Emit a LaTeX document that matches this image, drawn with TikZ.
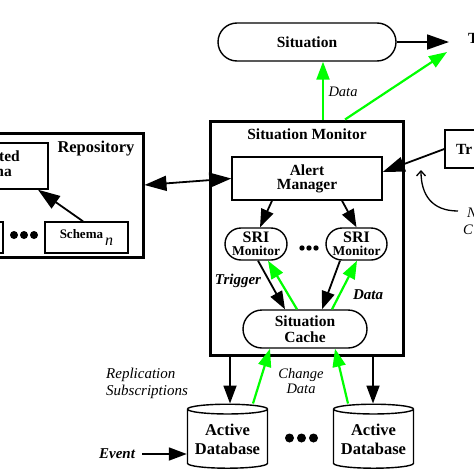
\documentclass[tikz,border=0pt]{standalone}
\usepackage{fontspec}
\setmainfont{Liberation Serif}
\usepackage{tikz}
\usetikzlibrary{shapes,arrows.meta,positioning}
\tikzset{
  every node/.style={
    font=\fontsize{15.5}{14}\selectfont\bfseries,
    align=center,
    inner sep=0pt
  },
  block/.style n args={2}{
    shape=rectangle,
    draw=black,
    line width=1.4pt,
    minimum width=#1,
    minimum height=#2
  },
  panel/.style n args={2}{
    block={#1}{#2},
    line width=3pt
  },
  pill/.style n args={3}{
    block={#1}{#2},
    rounded corners=#3
  },
  database/.style={
    shape=cylinder,
    shape border rotate=90,
    aspect=0.15,
    draw=black,
    line width=1.4pt,
    minimum width=80pt,
    minimum height=64pt,
    font=\fontsize{16.5}{19}\selectfont\bfseries
  },
  call/.style={
    -{Triangle[length=18pt,width=13pt]},
    line width=1.8pt
  },
  bigcall/.style={
    -{Triangle[length=22pt,width=15pt]},
    line width=1.8pt
  },
  twoway/.style={
    {Triangle[length=22pt,width=15pt]}-{Triangle[length=22pt,width=15pt]},
    line width=1.8pt
  },
  feed/.style={
    call,
    draw=green,
    line width=2.2pt
  },
  note/.style={
    -{Straight Barb[length=5pt,width=9pt]},
    line width=1.3pt
  },
  tag/.style={
    font=\fontsize{14.5}{15}\selectfont\itshape
  },
  boldtag/.style={
    font=\fontsize{15}{16}\selectfont\bfseries\itshape
  }
}

\begin{document}
\begin{tikzpicture}[x=1pt,y=-1pt]
    \useasboundingbox (0,0) rectangle (474,474);
    \clip (0,0) rectangle (474,474);
    \node [pill={178pt}{38pt}{19pt}] (situation) at (307,42) {Situation};
    \node [anchor=west] (toptext) at (468,38) {T};
    \node [panel={193pt}{234pt}] (monitor) at (306.5,238) {};
    \node (monitortitle) at (307,134) {Situation Monitor};
    \node [block={150pt}{43pt}] (alert) at (307,178.5) {Alert\\Manager};
    \node [pill={62pt}{32pt}{16pt}, font=\fontsize{13.5}{13}\selectfont\bfseries] (sri1) at (256,244)
      {{\fontsize{16}{13}\selectfont SRI}\\Monitor};
    \node [pill={61pt}{32pt}{16pt}, font=\fontsize{13.5}{13}\selectfont\bfseries] (sri2) at (356.5,244)
      {{\fontsize{16}{13}\selectfont SRI}\\Monitor};
    \node [pill={124pt}{38pt}{19pt}, font=\fontsize{15.5}{16}\selectfont\bfseries] (cache) at (305,329)
      {Situation\\Cache};
    \node [database] (db1) at (227.5,439) {Active\\Database};
    \node [database] (db2) at (373.5,439) {Active\\Database};
    \node [panel={200pt}{124pt}] (repo) at (43,195) {};
    \node [font=\fontsize{16.5}{16}\selectfont\bfseries] (repotitle) at (96,149) {Repository};
    \node [block={76pt}{46pt}] (merged) at (10,166) {};
    \node [anchor=east] (mergedtop) at (20,156.5) {ted};
    \node [anchor=east] (mergedbottom) at (12,173) {na};
    \node [block={60pt}{31pt}] (schemaA) at (-27,237.5) {};
    \node [block={83pt}{31pt}, font=\fontsize{13}{13}\selectfont\bfseries] (schemaN) at (86.5,237.5)
      {Schema\,\raisebox{-7pt}{\fontsize{16}{16}\selectfont\mdseries\itshape n}};
    \node [block={70pt}{38pt}] (tr) at (480,149) {};
    \node [anchor=west] (trtext) at (456,149) {Tr};
    \node [tag] (datatop) at (343,92) {Data};
    \node [boldtag] (trigger) at (238,281) {Trigger};
    \node [boldtag] (datacache) at (368,295) {Data};
    \node [anchor=west, align=left, font=\fontsize{15}{17}\selectfont\itshape] (replication) at (106,383.5)
      {Replication\\Subscriptions};
    \node [font=\fontsize{14.5}{15}\selectfont\itshape] (change) at (301,381) {Change\\Data};
    \node [boldtag] (event) at (117,454) {Event};
    \node [tag, anchor=west] (newtop) at (467,213) {N};
    \node [tag, anchor=west] (newbottom) at (463,230) {C};
    \coordinate (sitout) at (449,42);
    \coordinate (feedout) at (447,52);
    \coordinate (notestart) at (458,211);
    \coordinate (noteend) at (421,170);

    \draw [bigcall] (situation.east) -- (sitout);
    \draw [feed] ([xshift=16.5pt]monitor.north) -- ([xshift=16pt]situation.south);
    \draw [feed] ([xshift=38.5pt]monitor.north) -- (feedout);
    \draw [twoway] ([yshift=10pt]repo.east) -- (alert.west);
    \draw [bigcall] (tr.west) -- ([yshift=6.5pt]alert.east);
    \draw [call] ([xshift=-35pt]alert.south) -- ([xshift=4pt]sri1.north);
    \draw [call] ([xshift=35pt]alert.south) -- (sri2.north);
    \draw [call] ([xshift=2pt]sri1.south) -- ([xshift=-20pt]cache.north);
    \draw [feed] ([xshift=-8pt]cache.north) -- ([xshift=12pt]sri1.south);
    \draw [call] ([xshift=-16.5pt]sri2.south) -- ([xshift=17pt]cache.north);
    \draw [feed] ([xshift=27pt]cache.north) -- ([xshift=0.5pt]sri2.south);
    \draw [call] ([xshift=-76.5pt]monitor.south) -- ([xshift=2.5pt]db1.north);
    \draw [call] ([xshift=66.5pt]monitor.south) -- ([xshift=-0.5pt]db2.north);
    \draw [feed] ([xshift=25.5pt]db1.north) -- ([xshift=-35pt]cache.south);
    \draw [feed] ([xshift=-25.5pt]db2.north) -- ([xshift=30pt]cache.south);
    \draw [bigcall] ([xshift=-3.5pt]schemaN.north) -- ([xshift=28pt]merged.south);
    \draw [call] ([xshift=7pt]event.east) -- (event.east -| db1.west);
    \draw [note] (notestart) .. controls (432,211) and (421,195) .. (noteend);

    \fill (302,248) circle[radius=2.7pt] (309,248) circle[radius=2.7pt] (316,248) circle[radius=2.7pt];
    \fill (14,235) circle[radius=4pt] (24,235) circle[radius=4pt] (34,235) circle[radius=4pt];
    \fill (289.5,438) circle[radius=4.5pt] (301.5,438) circle[radius=4.5pt] (313.5,438) circle[radius=4.5pt];
\end{tikzpicture}
\end{document}
